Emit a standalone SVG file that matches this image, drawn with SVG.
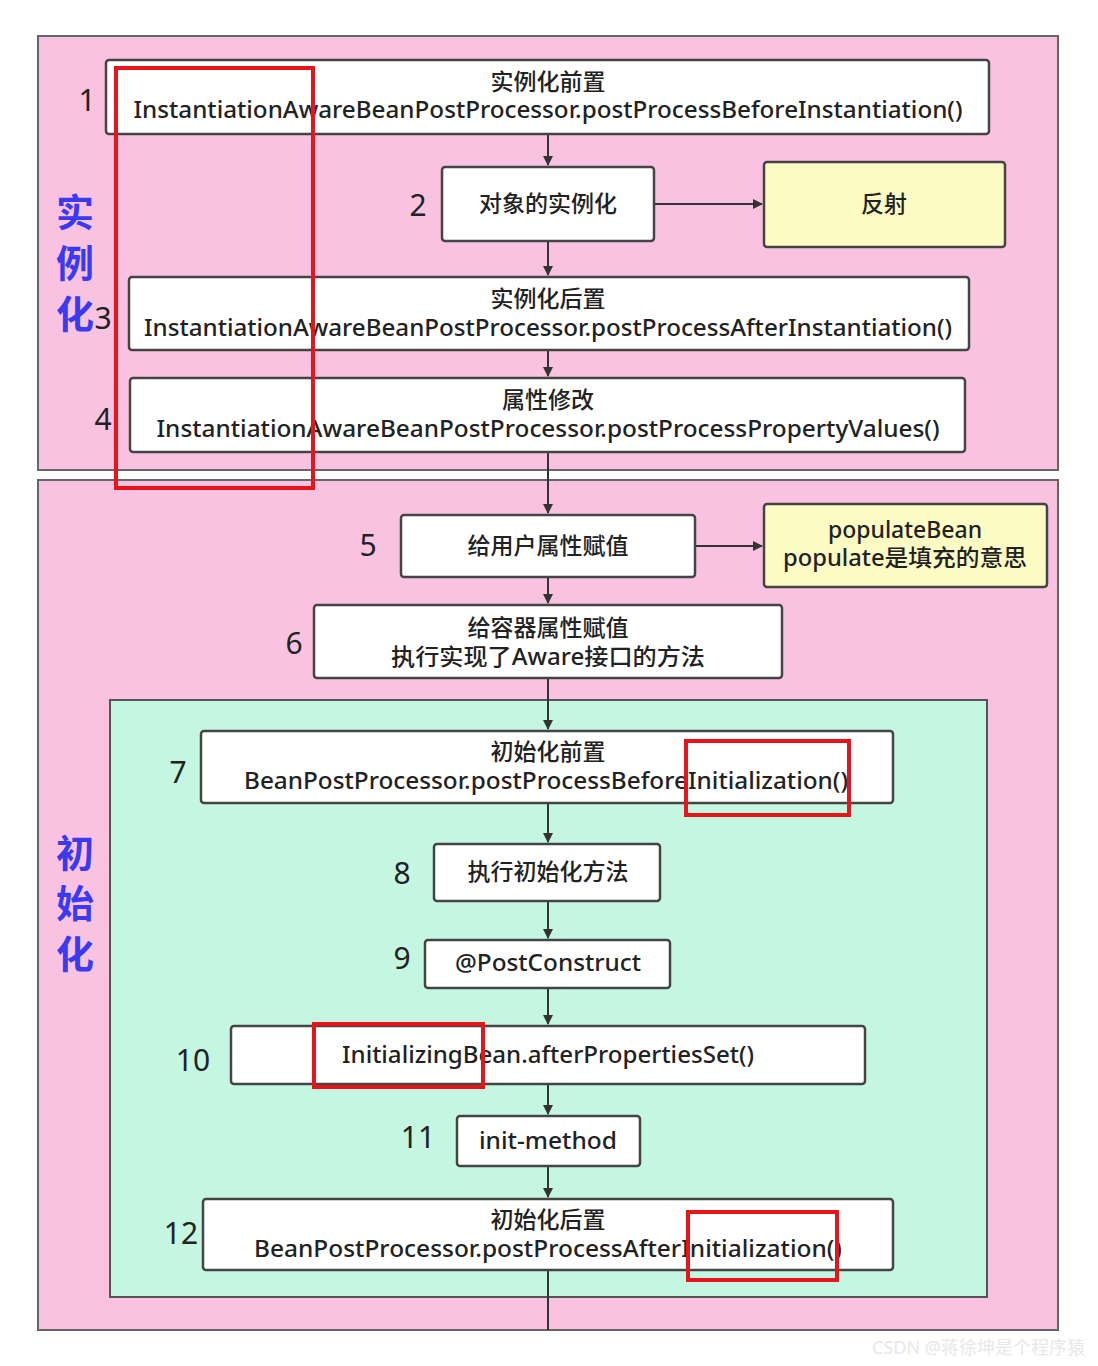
<svg xmlns="http://www.w3.org/2000/svg" width="1098" height="1366" viewBox="0 0 1098 1366">
<style>
.n{fill:#fff;stroke:#444;stroke-width:2.5}
.t{font-family:"Noto Sans","Noto Sans CJK SC",sans-serif;font-size:23px;font-weight:500;fill:#222;text-anchor:middle}
.num{font-family:"Noto Sans",sans-serif;font-size:30px;fill:#222;text-anchor:middle}
.side{font-family:"Noto Sans CJK SC",sans-serif;font-size:38px;fill:#3a3af0;font-weight:bold;text-anchor:middle}
.red{fill:none;stroke:#e8141c;stroke-width:4}
.c{stroke:#333;stroke-width:2;fill:none}
</style>
<defs><marker id="a" markerWidth="10" markerHeight="10" refX="9" refY="5" orient="auto" markerUnits="userSpaceOnUse"><path d="M0,0 L10,5 L0,10 Z" fill="#333"/></marker></defs>
<rect width="1098" height="1366" fill="#fff"/>
<rect x="38" y="36" width="1020" height="434" fill="#f9c2e0" stroke="#666" stroke-width="2"/>
<rect x="38" y="480" width="1020" height="850" fill="#f9c2e0" stroke="#666" stroke-width="2"/>
<rect x="110" y="700" width="877" height="597" fill="#c4f6e1" stroke="#555" stroke-width="2"/>
<g id="connectors">
<line class="c" x1="548" y1="134" x2="548" y2="165" marker-end="url(#a)"/>
<line class="c" x1="548" y1="241" x2="548" y2="275" marker-end="url(#a)"/>
<line class="c" x1="548" y1="350" x2="548" y2="376" marker-end="url(#a)"/>
<line class="c" x1="548" y1="452" x2="548" y2="513" marker-end="url(#a)"/>
<line class="c" x1="548" y1="577" x2="548" y2="603" marker-end="url(#a)"/>
<line class="c" x1="548" y1="678" x2="548" y2="729" marker-end="url(#a)"/>
<line class="c" x1="548" y1="803" x2="548" y2="842" marker-end="url(#a)"/>
<line class="c" x1="548" y1="901" x2="548" y2="938" marker-end="url(#a)"/>
<line class="c" x1="548" y1="988" x2="548" y2="1024" marker-end="url(#a)"/>
<line class="c" x1="548" y1="1084" x2="548" y2="1114" marker-end="url(#a)"/>
<line class="c" x1="548" y1="1166" x2="548" y2="1197" marker-end="url(#a)"/>
<line class="c" x1="548" y1="1270" x2="548" y2="1330"/>
<line class="c" x1="654" y1="204" x2="762" y2="204" marker-end="url(#a)"/>
<line class="c" x1="695" y1="546" x2="762" y2="546" marker-end="url(#a)"/>
</g>
<g id="n1"><rect class="n" x="106" y="60" width="883" height="74" rx="3"/><text class="t" x="548" y="90">实例化前置</text><text class="t" x="548" y="118" textLength="829" lengthAdjust="spacingAndGlyphs">InstantiationAwareBeanPostProcessor.postProcessBeforeInstantiation()</text></g>
<g id="n2"><rect class="n" x="442" y="167" width="212" height="74" rx="3"/><text class="t" x="548" y="212">对象的实例化</text></g>
<g id="fs"><rect x="764" y="162" width="241" height="85" rx="3" fill="#fdfbc4" stroke="#444" stroke-width="2.5"/><text class="t" x="884" y="212">反射</text></g>
<g id="n3"><rect class="n" x="129" y="277" width="840" height="73" rx="3"/><text class="t" x="548" y="307">实例化后置</text><text class="t" x="548" y="336" textLength="808" lengthAdjust="spacingAndGlyphs">InstantiationAwareBeanPostProcessor.postProcessAfterInstantiation()</text></g>
<g id="n4"><rect class="n" x="130" y="378" width="835" height="74" rx="3"/><text class="t" x="548" y="408">属性修改</text><text class="t" x="548" y="437" textLength="783" lengthAdjust="spacingAndGlyphs">InstantiationAwareBeanPostProcessor.postProcessPropertyValues()</text></g>
<g id="n5"><rect class="n" x="401" y="515" width="294" height="62" rx="3"/><text class="t" x="548" y="554">给用户属性赋值</text></g>
<g id="pb"><rect x="764" y="504" width="283" height="83" rx="3" fill="#fdfbc4" stroke="#444" stroke-width="2.5"/><text class="t" x="905" y="538">populateBean</text><text class="t" x="905" y="566" textLength="244" lengthAdjust="spacingAndGlyphs">populate是填充的意思</text></g>
<g id="n6"><rect class="n" x="314" y="605" width="468" height="73" rx="3"/><text class="t" x="548" y="636">给容器属性赋值</text><text class="t" x="548" y="665" textLength="314" lengthAdjust="spacingAndGlyphs">执行实现了Aware接口的方法</text></g>
<g id="n7"><rect class="n" x="201" y="731" width="692" height="72" rx="3"/><text class="t" x="548" y="760">初始化前置</text><text class="t" x="546" y="789" textLength="604" lengthAdjust="spacingAndGlyphs">BeanPostProcessor.postProcessBeforeInitialization()</text></g>
<g id="n8"><rect class="n" x="434" y="844" width="226" height="57" rx="3"/><text class="t" x="548" y="880">执行初始化方法</text></g>
<g id="n9"><rect class="n" x="425" y="940" width="245" height="48" rx="3"/><text class="t" x="548" y="971" textLength="186" lengthAdjust="spacingAndGlyphs">@PostConstruct</text></g>
<g id="n10"><rect class="n" x="231" y="1026" width="634" height="58" rx="3"/><text class="t" x="548" y="1063" textLength="412" lengthAdjust="spacingAndGlyphs">InitializingBean.afterPropertiesSet()</text></g>
<g id="n11"><rect class="n" x="457" y="1116" width="183" height="50" rx="3"/><text class="t" x="548" y="1149" textLength="138" lengthAdjust="spacingAndGlyphs">init-method</text></g>
<g id="n12"><rect class="n" x="203" y="1199" width="690" height="71" rx="3"/><text class="t" x="548" y="1228">初始化后置</text><text class="t" x="548" y="1257" textLength="588" lengthAdjust="spacingAndGlyphs">BeanPostProcessor.postProcessAfterInitialization()</text></g>
<g id="nums">
<text class="num" x="87" y="111">1</text><text class="num" x="418" y="216">2</text><text class="num" x="103" y="329">3</text><text class="num" x="103" y="430">4</text><text class="num" x="368" y="556">5</text><text class="num" x="294" y="654">6</text><text class="num" x="178" y="783">7</text><text class="num" x="402" y="884">8</text><text class="num" x="402" y="969">9</text><text class="num" x="193" y="1071">10</text><text class="num" x="418" y="1148">11</text><text class="num" x="181" y="1244">12</text>
</g>
<g id="side">
<text class="side" x="75" y="226">实</text><text class="side" x="75" y="277">例</text><text class="side" x="75" y="328">化</text>
<text class="side" x="75" y="867">初</text><text class="side" x="75" y="917">始</text><text class="side" x="75" y="968">化</text>
</g>
<g id="redmarks">
<rect class="red" x="116" y="68" width="197" height="420"/>
<rect class="red" x="686" y="741" width="163" height="74"/>
<rect class="red" x="314" y="1024" width="169" height="63"/>
<rect class="red" x="688" y="1212" width="149" height="68"/>
</g>
<text x="1085" y="1354" font-family="Noto Sans,Noto Sans CJK SC,sans-serif" font-size="18" fill="#e8e8e8" text-anchor="end">CSDN @蒋徐坤是个程序猿</text>
</svg>
